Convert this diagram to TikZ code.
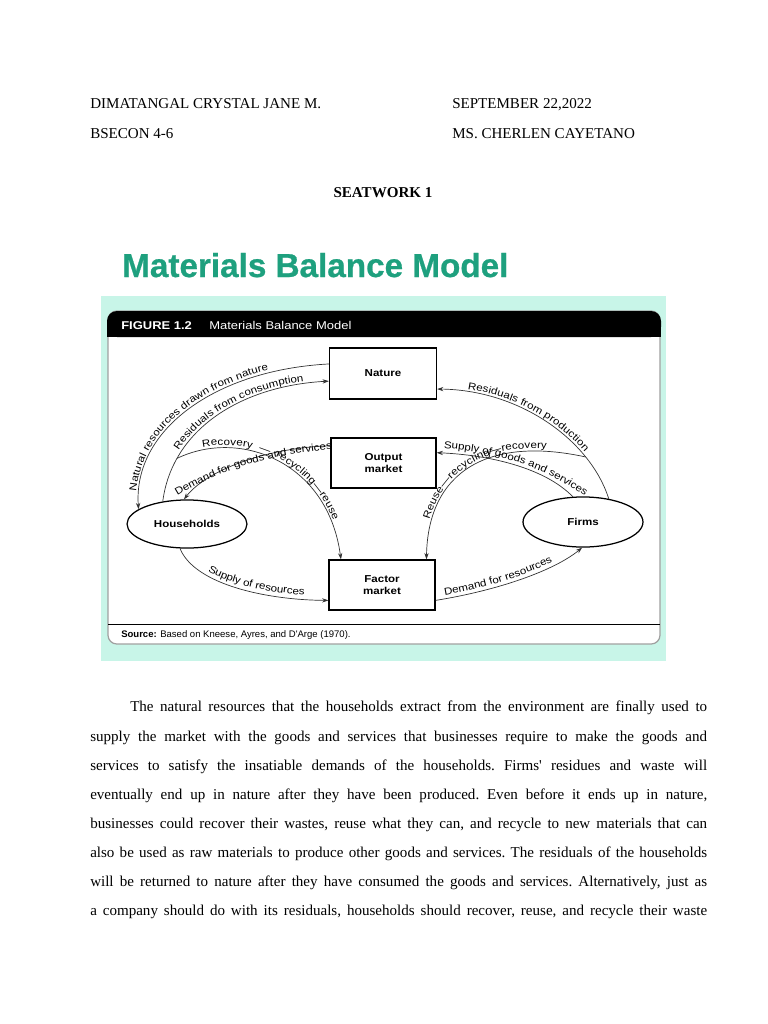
\documentclass[tikz,border=0pt]{standalone}
\usepackage{fontspec}
\setmainfont{Liberation Serif}
\newfontfamily\figfont[FakeStretch=1.15]{Liberation Sans}
\newfontfamily\plainsans{Liberation Sans}
\newfontfamily\titlefont[BoldFeatures={FakeBold=0.7}]{Liberation Sans}
\usetikzlibrary{arrows.meta,decorations.text,shapes.geometric}
\definecolor{mint}{RGB}{200,245,232}
\definecolor{titlegreen}{RGB}{30,160,126}
\definecolor{conngray}{RGB}{50,50,50}
\definecolor{framegray}{RGB}{160,160,160}
\newcommand{\figlab}{\figfont\fontsize{8}{9.6}\selectfont}
\newcommand{\figbold}{\figfont\bfseries\fontsize{8}{9.6}\selectfont}
\newcommand{\paratext}{\fontsize{12}{14}\selectfont\frenchspacing}
\newcommand{\jline}[1]{\makebox[491.7pt][s]{#1}}
\tikzset{
  mktbox/.style={draw, line width=1pt, rectangle, inner sep=0pt, align=center, font=\figbold},
  agent/.style={draw, line width=1pt, ellipse, inner sep=0pt, font=\figbold},
  conn/.style={draw=conngray, line width=0.55pt},
  arrowend/.style={-{Stealth[length=5pt,width=3.4pt]}},
  arrowstart/.style={{Stealth[length=5pt,width=3.4pt]}-},
  curvetext/.style n args={3}{postaction={decorate, decoration={text along path, text={|\figlab|#1}, text align={#3}, raise=#2}}},
  txt/.style={anchor=base west, inner sep=0pt, font=\paratext},
}
\begin{document}
\begin{tikzpicture}[x=0.797pt, y=-0.797pt]
\useasboundingbox (0,0) rectangle (768,1024);
\fill[white] (0,0) rectangle (768,1024);

% header texts
\node[txt] (name) at (90,108) {DIMATANGAL CRYSTAL JANE M.};
\node[txt] (date) at (452,108) {SEPTEMBER 22,2022};
\node[txt] (course) at (90,138) {BSECON 4-6};
\node[txt] (teacher) at (452,138) {MS. CHERLEN CAYETANO};
\node[anchor=base, inner sep=0pt, font=\paratext\bfseries] (seat) at (383,197.5) {SEATWORK 1};

% title
\node[anchor=base west, inner sep=0pt, text=titlegreen, font=\titlefont\bfseries\fontsize{26.5}{30}\selectfont] (title) at (122,277) {Materials Balance Model};

% figure panel
\fill[mint] (101,296) rectangle (666,661);
\draw[framegray, line width=1pt, fill=white, rounded corners=7pt] (108,311) rectangle (660,644);
\fill[black, rounded corners=8pt] (107,311) rectangle (661,337);
\fill[black] (107,325) rectangle (661,337);
\node[anchor=base west, inner sep=0pt, text=white, font=\figfont\bfseries\fontsize{9}{10}\selectfont] (fig) at (121,329) {FIGURE 1.2};
\node[anchor=base west, inner sep=0pt, text=white, font=\figfont\fontsize{9}{10}\selectfont] (figtitle) at (209,329) {Materials Balance Model};
\draw[black, line width=1.1pt] (108,624.5) -- (660,624.5);
\node[anchor=base west, inner sep=0pt, font=\plainsans\fontsize{7.6}{9}\selectfont] (src) at (121,637) {\textbf{Source:} Based on Kneese, Ayres, and D\textquotesingle Arge (1970).};

% nodes
\node[mktbox, minimum width=85.3pt, minimum height=40.6pt] (nature) at (383,373.5) {Nature};
\node[mktbox, minimum width=83.7pt, minimum height=39.9pt] (output) at (383.5,463) {Output\\market};
\node[mktbox, minimum width=84.5pt, minimum height=39.9pt] (factor) at (382,585) {Factor\\market};
\node[agent, minimum width=95.6pt, minimum height=38.3pt] (hh) at (187,524) {Households};
\node[agent, minimum width=95.6pt, minimum height=39.9pt] (firms) at (583,522) {Firms};

% connectors
\draw[conn, arrowstart, curvetext={Natural resources drawn from nature}{2pt}{left indent=14pt}]
  (hh.163) .. controls (133,430) and (215,370) .. (nature.170);
\draw[conn, arrowend, curvetext={Residuals from consumption}{2pt}{left indent=42pt}]
  (hh.137) .. controls (172,430) and (240,386) .. (nature.188) coordinate[pos=0.22] (r1);
\draw[conn, arrowstart] (hh.97) .. controls (205,472) and (262,448) .. (output.162);
\path[curvetext={Demand for goods and services}{0pt}{center}]
  (174,498) .. controls (215,472) and (265,455) .. (336,449);
\draw[conn, arrowend, curvetext={Recovery \ — \ recycling—reuse}{2pt}{left indent=22pt}]
  (r1) .. controls (240,428) and (328,462) .. (factor.148);
\draw[conn, arrowstart, curvetext={Residuals from production}{2pt}{left indent=24pt}]
  (nature.-16) .. controls (520,390) and (590,440) .. (firms.42) coordinate[pos=0.75] (r2);
\draw[conn, arrowstart, curvetext={Reuse—recycling—recovery}{2pt}{center}]
  (factor.30) .. controls (428,470) and (490,436) .. (r2);
\draw[conn, arrowstart] (output.11) .. controls (490,455) and (545,468) .. (firms.112);
\path[curvetext={Supply of goods and services}{0pt}{center}]
  (440,448) .. controls (500,452) and (545,468) .. (588,498);
\draw[conn, arrowend, curvetext={Supply of resources}{3.5pt}{left indent=30pt}]
  (hh.254) .. controls (195,585) and (268,600) .. (factor.196);
\draw[conn, arrowend, curvetext={Demand for resources}{3pt}{left indent=8pt}]
  (factor.-16) .. controls (500,590) and (555,570) .. (firms.268);

% paragraph
\node[txt] (p1) at (130,711) {\makebox[459.8pt][s]{The natural resources that the households extract from the environment are finally used to}};
\node[txt] (p2) at (90,741) {\jline{supply the market with the goods and services that businesses require to make the goods and}};
\node[txt] (p3) at (90,770) {\jline{services to satisfy the insatiable demands of the households. Firms\textquotesingle{} residues and waste will}};
\node[txt] (p4) at (90,799) {\jline{eventually end up in nature after they have been produced. Even before it ends up in nature,}};
\node[txt] (p5) at (90,828) {\jline{businesses could recover their wastes, reuse what they can, and recycle to new materials that can}};
\node[txt] (p6) at (90,857) {\jline{also be used as raw materials to produce other goods and services. The residuals of the households}};
\node[txt] (p7) at (90,886) {\jline{will be returned to nature after they have consumed the goods and services. Alternatively, just as}};
\node[txt] (p8) at (90,915) {\jline{a company should do with its residuals, households should recover, reuse, and recycle their waste}};
\end{tikzpicture}
\end{document}
